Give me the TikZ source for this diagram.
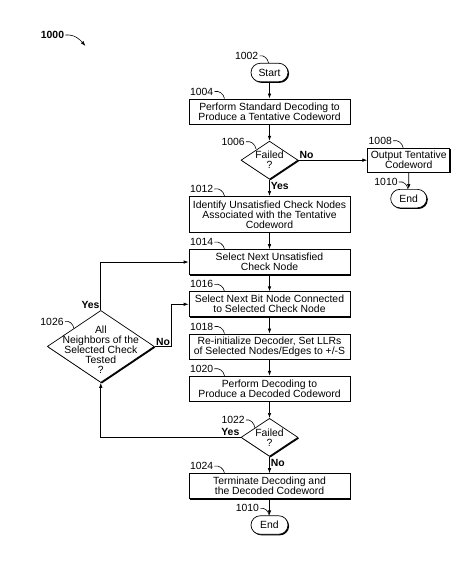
\documentclass[tikz,border=0pt]{standalone}
\usepackage{fontspec}
\setmainfont{Liberation Sans}
\usetikzlibrary{positioning}
\usetikzlibrary{shapes.geometric}
\usetikzlibrary{shapes.misc}
\usetikzlibrary{shadows}
\usetikzlibrary{arrows.meta}

\begin{document}
\begin{tikzpicture}[x=1pt,y=1pt,node distance=16.5pt,line width=0.7pt,
  >={Latex[length=5pt,width=3.5pt]},
  every node/.style={font=\fontsize{10.4}{10}\selectfont},
  shadowed/.style={drop shadow={shadow xshift=1.1pt,shadow yshift=-1.1pt,fill=black,opacity=1}},
  proc/.style={draw,fill=white,shadowed,align=center,minimum width=161pt,minimum height=25pt,inner sep=2pt},
  term/.style={draw,fill=white,shadowed,rounded rectangle,minimum width=39pt,minimum height=18.5pt,inner sep=1pt},
  decision/.style={draw,fill=white,shadowed,diamond,aspect=1.5,inner sep=0pt,align=center,minimum width=57pt,minimum height=38pt},
  ref/.style={inner sep=1pt},
  lead/.style={line width=0.6pt},
  yn/.style={inner sep=1pt,font=\fontsize{10.4}{10}\selectfont\bfseries}]
  \useasboundingbox (0,0) rectangle (474,-571);
  \node[ref,font=\fontsize{10.4}{10}\selectfont\bfseries] (n1000) at (52.5,-35) {1000};
  \draw[->,lead] (n1000.east) to[out=5,in=130] ++(20,-11);
  % main column
  \node[term] (start) at (269.5,-72.5) {Start};
  \node[proc,below=of start] (stddec) {Perform Standard Decoding to\\Produce a Tentative Codeword};
  \node[decision,below=of stddec] (failA) {Failed\\?};
  \node[proc,right=69pt of failA,minimum width=82pt,minimum height=24pt] (output) {Output Tentative\\Codeword};
  \node[term,below=of output,minimum width=38pt] (endA) {End};
  \node[proc,below=of failA,minimum height=36pt] (ident) {Identify Unsatisfied Check Nodes\\Associated with the Tentative\\Codeword};
  \node[proc,below=of ident] (selcheck) {Select Next Unsatisfied\\Check Node};
  \node[proc,below=of selcheck] (selbit) {Select Next Bit Node Connected\\to Selected Check Node};
  \node[proc,below=of selbit] (reinit) {Re-initialize Decoder, Set LLRs\\of Selected Nodes/Edges to +/-S};
  \node[proc,below=of reinit] (decode) {Perform Decoding to\\Produce a Decoded Codeword};
  \node[decision,below=of decode] (failB) {Failed\\?};
  \node[proc,below=of failB] (stop) {Terminate Decoding and\\the Decoded Codeword};
  \node[term,below=of stop] (endB) {End};
  \node[decision,left=34pt of reinit,minimum width=107pt,minimum height=72pt,
    label={[align=center,yshift=-3pt]center:All\\Neighbors of the\\Selected Check\\Tested\\?}] (allnb) {};
  % reference numbers
  \node[ref,above left=2pt and 10pt of start.north] (n1002) {1002};
  \node[ref,above right=2pt and 0pt of stddec.north west] (n1004) {1004};
  \node[ref,above left=-6pt and 23.5pt of failA.north] (n1006) {1006};
  \node[ref,above right=2pt and 0pt of output.north west] (n1008) {1008};
  \node[ref,above left=2pt and 1pt of endA.north west] (n1010a) {1010};
  \node[ref,above right=2pt and 0pt of ident.north west] (n1012) {1012};
  \node[ref,above right=2pt and 0pt of selcheck.north west] (n1014) {1014};
  \node[ref,above right=2pt and 0pt of selbit.north west] (n1016) {1016};
  \node[ref,above right=2pt and 0pt of reinit.north west] (n1018) {1018};
  \node[ref,above right=2pt and 0pt of decode.north west] (n1020) {1020};
  \node[ref,above left=-7pt and 23.5pt of failB.north] (n1022) {1022};
  \node[ref,above right=2pt and 0pt of stop.north west] (n1024) {1024};
  \node[ref,above left=2pt and 0pt of endB.north west] (n1010b) {1010};
  \node[ref,above left=20pt and -18pt of allnb.west] (n1026) {1026};
  \draw[lead] (n1002.east) to[out=15,in=100] ++(9,-7);
  \draw[lead] (n1004.east) to[out=15,in=100] ++(10,-7);
  \draw[lead] (n1006.east) to[out=15,in=100] ++(10,-7);
  \draw[lead] (n1008.east) to[out=15,in=100] ++(10,-7);
  \draw[lead] (n1010a.east) to[out=15,in=100] ++(9,-7);
  \draw[lead] (n1012.east) to[out=15,in=100] ++(10,-7);
  \draw[lead] (n1014.east) to[out=15,in=100] ++(10,-7);
  \draw[lead] (n1016.east) to[out=15,in=100] ++(10,-7);
  \draw[lead] (n1018.east) to[out=15,in=100] ++(10,-7);
  \draw[lead] (n1020.east) to[out=15,in=100] ++(10,-7);
  \draw[lead] (n1022.east) to[out=15,in=100] ++(9,-8);
  \draw[lead] (n1024.east) to[out=15,in=100] ++(10,-7);
  \draw[lead] (n1010b.east) to[out=15,in=100] ++(9,-7);
  \draw[lead] (n1026.east) to[out=15,in=100] ++(9,-7);
  % connectors
  \draw[->] (start)--(stddec);
  \draw[->] (stddec)--(failA);
  \draw[->] (failA)--node[yn,pos=0,above right]{No}(output);
  \draw[->] (output)--(endA);
  \draw[->] (failA)--node[yn,pos=0.4,right]{Yes}(ident);
  \draw[->] (ident)--(selcheck);
  \draw[->] (selcheck)--(selbit);
  \draw[->] (selbit)--(reinit);
  \draw[->] (reinit)--(decode);
  \draw[->] (decode)--(failB);
  \draw[->] (failB)--node[yn,pos=0.4,right]{No}(stop);
  \draw[->] (stop)--(endB);
  \draw[->] (failB.west) node[yn,above left]{Yes} -| (allnb.south);
  \draw[->] (allnb.north) node[yn,above left]{Yes} |- (selcheck.west);
  \draw[->] (allnb.east) node[yn,above right]{No} -- ++(17,0) |- (selbit.west);
\end{tikzpicture}
\end{document}
